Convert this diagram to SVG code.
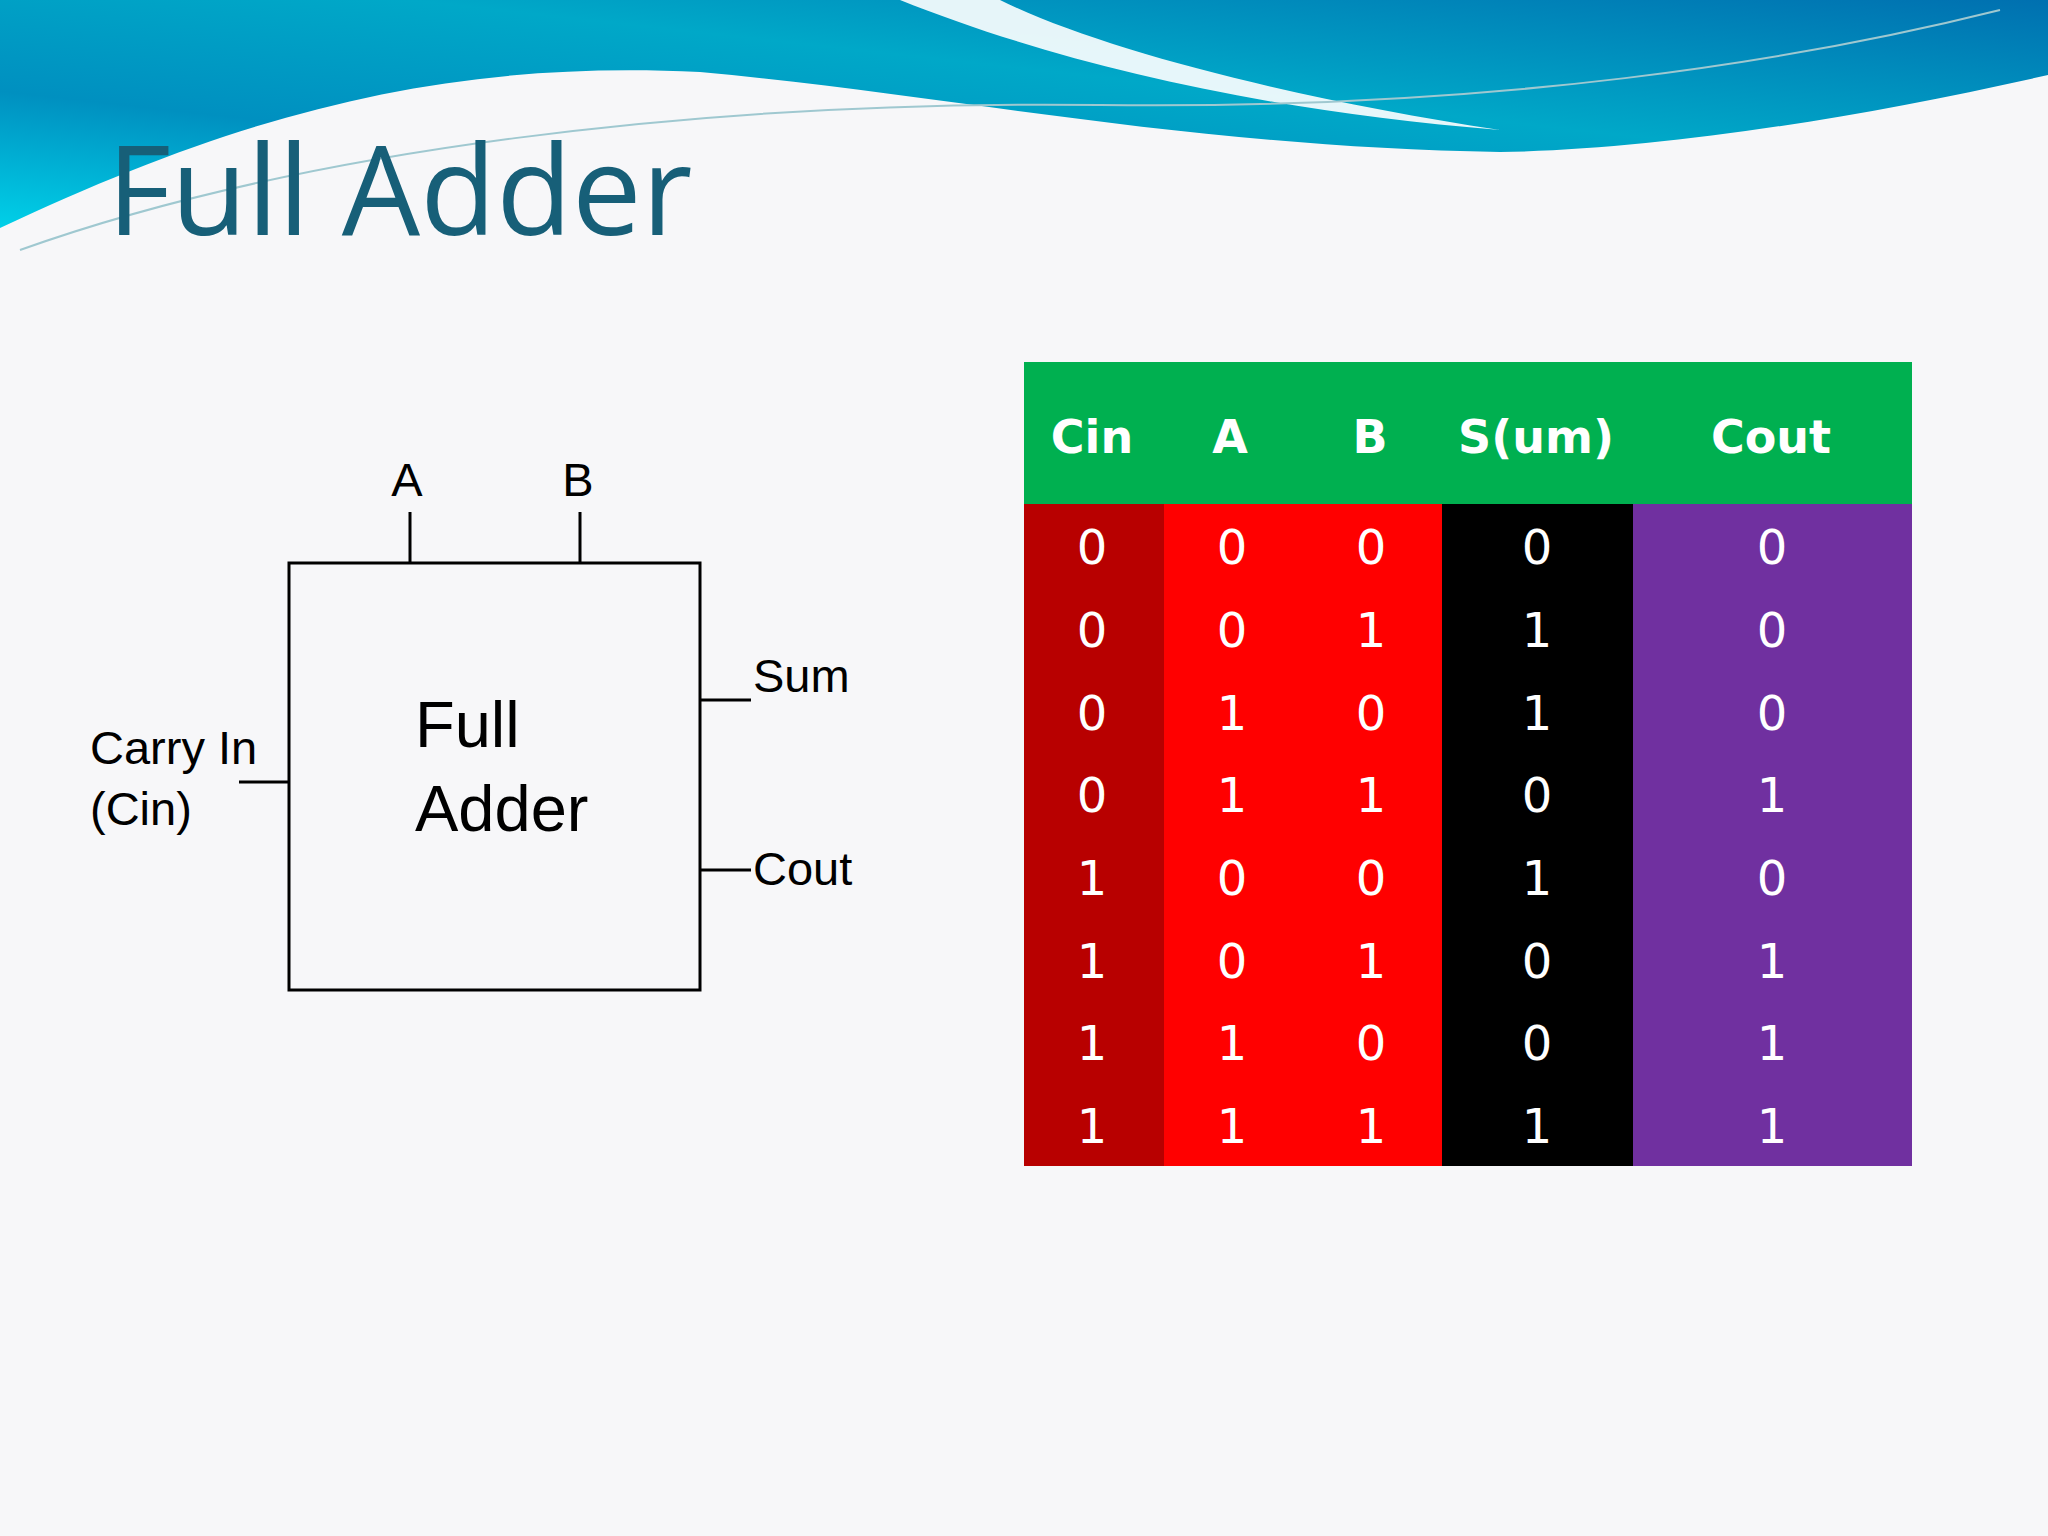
<svg xmlns="http://www.w3.org/2000/svg" width="2048" height="1536" viewBox="0 0 2048 1536">
<defs>
<linearGradient id="w" x1="0" y1="1" x2="1" y2="0"><stop offset="0" stop-color="#00d0e8"/><stop offset="0.3" stop-color="#0090c0"/><stop offset="0.6" stop-color="#00a8c8"/><stop offset="1" stop-color="#0070b0"/></linearGradient>
<style>
.l{font-family:"Liberation Sans",Arial,sans-serif;fill:#000}
.h{font-family:"DejaVu Sans",sans-serif;font-weight:bold;fill:#fff;font-size:46px;text-anchor:middle}
.d{font-family:"DejaVu Sans",sans-serif;fill:#fff;font-size:48px;text-anchor:middle}
.k{stroke:#000;stroke-width:3;fill:none}
</style>
</defs>
<rect width="2048" height="1536" fill="#f7f7f9"/>
<g id="wave">
<path d="M0,0 H2048 V75 C1850,120 1650,150 1500,152 C1200,148 950,95 700,72 C450,60 250,110 0,228 Z" fill="url(#w)"/>
<path d="M900,0 C1050,60 1250,110 1500,130 C1300,100 1100,50 1000,0 Z" fill="#ffffff" opacity="0.9"/>
<path d="M20,250 C300,150 700,100 1100,105 C1500,110 1800,60 2000,10" stroke="#9fc8d0" stroke-width="2" fill="none"/>
</g>
<text x="107" y="235" font-family="Open Sans,'Liberation Sans',sans-serif" font-size="124" fill="#175f78">Full Adder</text>
<g id="adder">
<rect x="289" y="563" width="411" height="427" class="k"/>
<text class="l" x="415" y="747" font-size="65">Full</text>
<text class="l" x="415" y="831" font-size="65">Adder</text>
</g>
<g id="connectors">
<line x1="410" y1="512" x2="410" y2="563" class="k"/>
<line x1="580" y1="512" x2="580" y2="563" class="k"/>
<line x1="239" y1="782" x2="289" y2="782" class="k"/>
<line x1="701" y1="700" x2="751" y2="700" class="k"/>
<line x1="701" y1="870" x2="751" y2="870" class="k"/>
</g>
<g id="labels">
<text class="l" x="407" y="496" font-size="47" text-anchor="middle">A</text>
<text class="l" x="578" y="496" font-size="47" text-anchor="middle">B</text>
<text class="l" x="90" y="764" font-size="47">Carry In</text>
<text class="l" x="90" y="825" font-size="47">(Cin)</text>
<text class="l" x="753" y="692" font-size="47">Sum</text>
<text class="l" x="753" y="885" font-size="47">Cout</text>
</g>
<g id="table">
<rect x="1024" y="362" width="888" height="142" fill="#00b050"/>
<rect x="1024" y="504" width="140" height="662" fill="#b80000"/>
<rect x="1164" y="504" width="278" height="662" fill="#ff0000"/>
<rect x="1442" y="504" width="191" height="662" fill="#000"/>
<rect x="1633" y="504" width="279" height="662" fill="#7030a0"/>
<text class="h" x="1092" y="453">Cin</text>
<text class="h" x="1230" y="453">A</text>
<text class="h" x="1370" y="453">B</text>
<text class="h" x="1536" y="453">S(um)</text>
<text class="h" x="1771" y="453">Cout</text>
<g class="d">
<text class="d" x="1092" y="564">0</text><text class="d" x="1232" y="564">0</text><text class="d" x="1371" y="564">0</text><text class="d" x="1537" y="564">0</text><text class="d" x="1772" y="564">0</text>
<text class="d" x="1092" y="647">0</text><text class="d" x="1232" y="647">0</text><text class="d" x="1371" y="647">1</text><text class="d" x="1537" y="647">1</text><text class="d" x="1772" y="647">0</text>
<text class="d" x="1092" y="730">0</text><text class="d" x="1232" y="730">1</text><text class="d" x="1371" y="730">0</text><text class="d" x="1537" y="730">1</text><text class="d" x="1772" y="730">0</text>
<text class="d" x="1092" y="812">0</text><text class="d" x="1232" y="812">1</text><text class="d" x="1371" y="812">1</text><text class="d" x="1537" y="812">0</text><text class="d" x="1772" y="812">1</text>
<text class="d" x="1092" y="895">1</text><text class="d" x="1232" y="895">0</text><text class="d" x="1371" y="895">0</text><text class="d" x="1537" y="895">1</text><text class="d" x="1772" y="895">0</text>
<text class="d" x="1092" y="978">1</text><text class="d" x="1232" y="978">0</text><text class="d" x="1371" y="978">1</text><text class="d" x="1537" y="978">0</text><text class="d" x="1772" y="978">1</text>
<text class="d" x="1092" y="1060">1</text><text class="d" x="1232" y="1060">1</text><text class="d" x="1371" y="1060">0</text><text class="d" x="1537" y="1060">0</text><text class="d" x="1772" y="1060">1</text>
<text class="d" x="1092" y="1143">1</text><text class="d" x="1232" y="1143">1</text><text class="d" x="1371" y="1143">1</text><text class="d" x="1537" y="1143">1</text><text class="d" x="1772" y="1143">1</text>
</g>
</g>
</svg>
